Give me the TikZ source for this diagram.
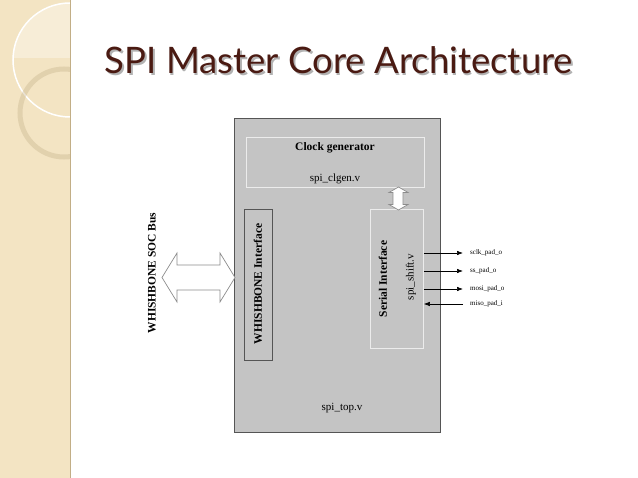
\documentclass[tikz,border=0pt]{standalone}
\usepackage{fontspec}
\setmainfont{Liberation Serif}
\newfontfamily\titlefont{Lato}
\usetikzlibrary{positioning,arrows.meta}

\definecolor{bandbeige}{HTML}{F3E4C3}
\definecolor{bandline}{HTML}{C2AE86}
\definecolor{titlebrown}{HTML}{4A1A12}
\definecolor{corefill}{HTML}{C4C4C4}
\definecolor{coreline}{HTML}{555555}
\definecolor{subline}{HTML}{ECECEC}

\tikzset{
  corebox/.style={draw=coreline, line width=1pt, fill=corefill, inner sep=0pt, anchor=north west},
  modbox/.style={draw=subline, line width=0.9pt, fill=corefill, inner sep=0pt, anchor=north west},
  ifbox/.style={draw=coreline, line width=0.9pt, fill=corefill, inner sep=0pt, anchor=north west},
  boldlbl/.style={font=\bfseries\fontsize{11.5}{12}\selectfont, inner sep=0pt},
  filelbl/.style={font=\fontsize{11}{12}\selectfont, inner sep=0pt},
  siglbl/.style={font=\fontsize{7}{8}\selectfont, anchor=west, inner sep=1pt},
  sigline/.style={-{Latex[length=6pt,width=4.5pt]}, line width=0.6pt},
  hollowarrow/.style={draw=gray!90, fill=white, line width=0.7pt, line join=miter},
  titletext/.style={font=\titlefont\fontsize{36.5}{38}\selectfont, anchor=base}
}

\begin{document}
\begin{tikzpicture}[x=1pt,y=-1pt]
  \useasboundingbox (0,0) rectangle (638,478);

  % beige band on the left
  \fill[bandbeige] (0,0) rectangle (70,478);
  \begin{scope}
    \clip (0,0) rectangle (70,478);
    \begin{scope}
      \clip (70,60) circle (57);
      \fill[white, opacity=0.35] (0,0) rectangle (70,58);
    \end{scope}
    \draw[white, line width=1.5pt] (70,60) circle (57);
    \draw[bandline, opacity=0.35, line width=5pt] (64,113) circle (44);
  \end{scope}
  \draw[bandline] (70,0) -- (70,478);

  % title with shadow
  \node[titletext, text=gray!60] at (340.5,75.5) {SPI Master Core Architecture};
  \node[titletext, text=titlebrown] (title) at (339,74) {SPI Master Core Architecture};

  % top level module
  \node[corebox, minimum width=206, minimum height=314] (core) at (234,118) {};
  \node[filelbl] (topfile) at (342,408) {spi\_top.v};

  % clock generator
  \node[modbox, minimum width=178, minimum height=50] (clk) at (246,137) {};
  \node[boldlbl] (clkname) at (335,148) {Clock generator};
  \node[filelbl] (clkfile) at (335,179) {spi\_clgen.v};

  % serial interface
  \node[modbox, minimum width=53, minimum height=139] (ser) at (370,209) {};
  \node[boldlbl, rotate=90] (sername) at (383,279) {Serial Interface};
  \node[filelbl, rotate=90] (serfile) at (411,277) {spi\_shift.v};

  % wishbone interface
  \node[ifbox, minimum width=28, minimum height=151] (wb) at (244,209) {};
  \node[boldlbl, rotate=90] (wbname) at (258,284) {WHISHBONE Interface};

  % wishbone bus
  \node[boldlbl, rotate=90] (bus) at (152,273) {WHISHBONE SOC Bus};
  \draw[hollowarrow] (162,277.5) -- (177,253) -- (177,265) -- (220,265) -- (220,253)
    -- (235,277.5) -- (220,302) -- (220,290) -- (177,290) -- (177,302) -- cycle;

  % clock <-> serial
  \draw[hollowarrow] (398.5,187) -- (408,192.5) -- (403,192.5) -- (403,204.5) -- (408,204.5)
    -- (398.5,210) -- (389,204.5) -- (393,204.5) -- (393,192.5) -- (389,192.5) -- cycle;

  % pad signals
  \node[siglbl] (sclk) at (469,253) {sclk\_pad\_o};
  \node[siglbl] (ss) at (469,271) {ss\_pad\_o};
  \node[siglbl] (mosi) at (469,289) {mosi\_pad\_o};
  \node[siglbl] (miso) at (469,304) {miso\_pad\_i};
  \draw[sigline, shorten >=6pt] (ser.east |- sclk) -- (sclk.west);
  \draw[sigline, shorten >=6pt] (ser.east |- ss) -- (ss.west);
  \draw[sigline, shorten >=6pt] (ser.east |- mosi) -- (mosi.west);
  \draw[sigline, shorten <=6pt] (miso.west) -- (ser.east |- miso);
\end{tikzpicture}
\end{document}
